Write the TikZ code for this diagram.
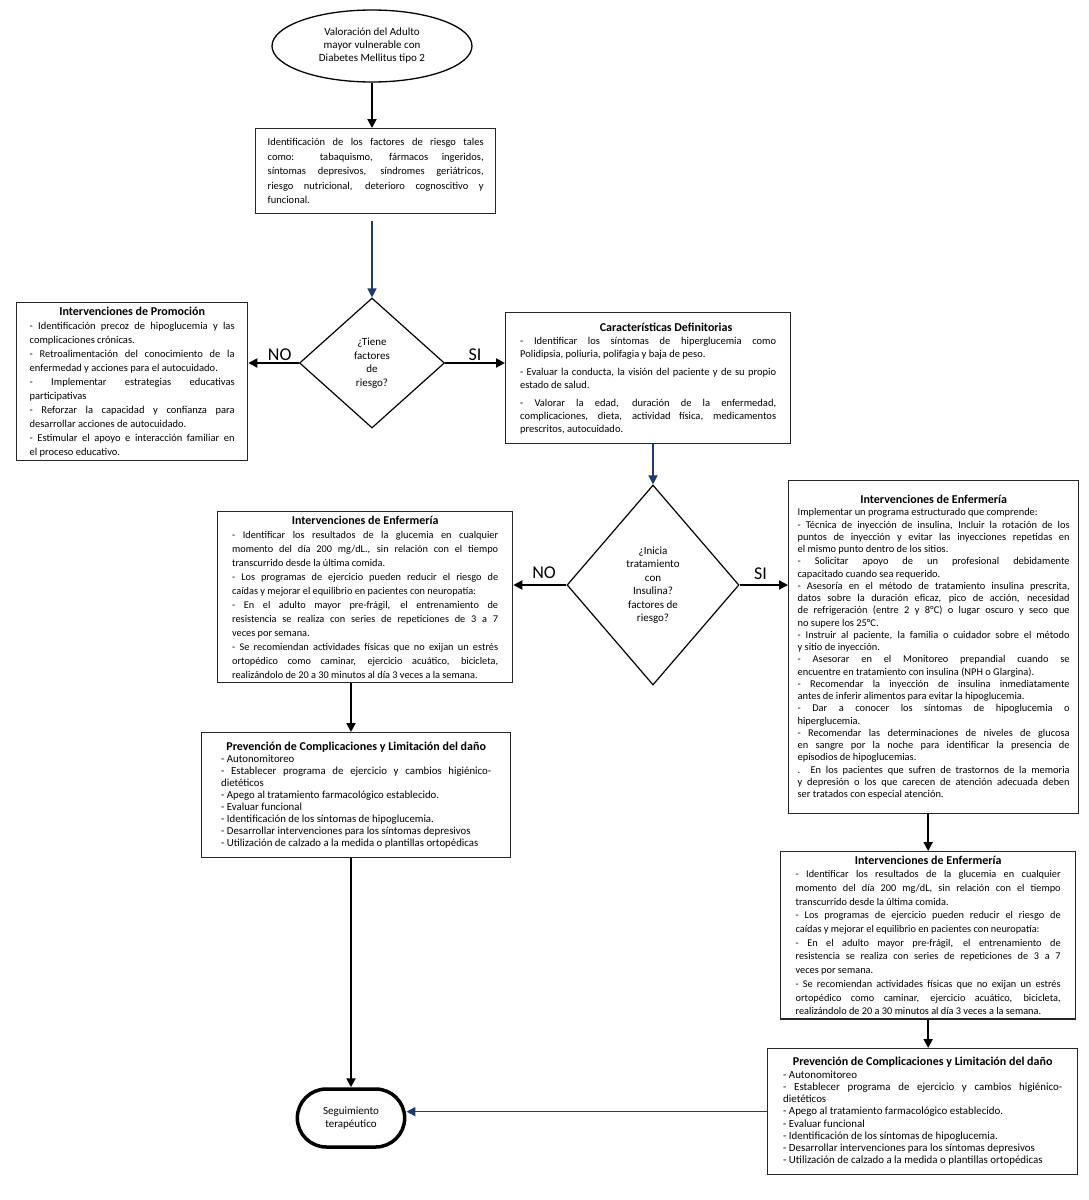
\documentclass[tikz,border=0pt]{standalone}
\usepackage{fontspec}
\setmainfont{Carlito}
\usetikzlibrary{shapes.geometric,shapes.misc,arrows.meta}

\definecolor{azulFlecha}{HTML}{1F3A6E}
\definecolor{bordeCaja}{HTML}{262626}

% titulo centrado de cada caja
\newcommand{\titulo}[1]{\centerline{\fontsize{12}{14}\selectfont\bfseries #1}}

% textos que se repiten en las dos ramas
\newcommand{\textoEnfermeria}[1]{\titulo{Intervenciones de Enfermería}
- Identificar los resultados de la glucemia en cualquier \linebreak momento del día 200 mg/dL#1 sin relación con el tiempo \linebreak transcurrido desde la última comida.\par
- Los programas de ejercicio pueden reducir el riesgo de \linebreak caídas y mejorar el equilibrio en pacientes con neuropatía:\par
- En el adulto mayor pre-frágil, el entrenamiento de \linebreak resistencia se realiza con series de repeticiones de 3 a 7 \linebreak veces por semana.\par
- Se recomiendan actividades físicas que no exijan un estrés \linebreak ortopédico como caminar, ejercicio acuático, bicicleta, \linebreak realizándolo de 20 a 30 minutos al día 3 veces a la semana.}

\newcommand{\textoPrevencion}{\titulo{Prevención de Complicaciones y Limitación del daño}
- Autonomitoreo\par
- Establecer programa de ejercicio y cambios higiénico-\linebreak dietéticos\par
- Apego al tratamiento farmacológico establecido.\par
- Evaluar funcional\par
- Identificación de los síntomas de hipoglucemia.\par
- Desarrollar intervenciones para los síntomas depresivos\par
- Utilización de calzado a la medida o plantillas ortopédicas}

\tikzset{
  caja/.style={draw=bordeCaja, line width=1.3pt, align=justify, anchor=north west, inner ysep=4pt, font=\fontsize{10.5}{13.5}\selectfont},
  rombo/.style={diamond, draw=black, line width=1.2pt, align=center, inner sep=0pt, font=\fontsize{11}{13.5}\selectfont},
  flechaNegra/.style={-{Triangle[length=9pt,width=9pt]}, line width=2pt, black},
  flechaAzul/.style={-{Triangle[length=9pt,width=9pt]}, line width=1.6pt, azulFlecha},
  etiqueta/.style={font=\fontsize{18}{18}\selectfont, inner sep=1pt},
}

\begin{document}
\begin{tikzpicture}[x=1pt, y=-1pt]
        % marco de la pagina
        \useasboundingbox (0,0) rectangle (1088,1200);

        % inicio
        \node[ellipse, draw, line width=1.3pt, minimum width=200pt, minimum height=72pt, align=center, inner sep=0pt, font=\fontsize{11}{13}\selectfont] (inicio) at (372,46) {Valoración del Adulto\\ mayor vulnerable con\\ Diabetes Mellitus tipo 2};

        % factores de riesgo
        \node[caja, text width=216pt, inner xsep=12pt, minimum height=85pt, font=\fontsize{10.5}{14.5}\selectfont] (factores) at (255,128) {Identificación de los factores de riesgo tales \linebreak como: tabaquismo, fármacos ingeridos, \linebreak síntomas depresivos, síndromes geriátricos, \linebreak riesgo nutricional, deterioro cognoscitivo y \linebreak funcional.};

        % primera decision
        \node[rombo, minimum width=145pt, minimum height=130pt] (rombo1) at (372,363) {¿Tiene\\ factores\\ de\\ riesgo?};

        % rama NO
        \node[caja, text width=205pt, inner xsep=13pt, minimum height=150pt, font=\fontsize{10.5}{14}\selectfont] (promocion) at (16,302) {\titulo{Intervenciones de Promoción}
- Identificación precoz de hipoglucemia y las \linebreak complicaciones crónicas.\par
- Retroalimentación del conocimiento de la \linebreak enfermedad y acciones para el autocuidado.\par
- Implementar estrategias educativas \linebreak participativas\par
- Reforzar la capacidad y confianza para \linebreak desarrollar acciones de autocuidado.\par
- Estimular el apoyo e interacción familiar en \linebreak el proceso educativo.};

        % rama SI
        \node[caja, text width=256pt, inner xsep=14.5pt, minimum height=131pt, font=\fontsize{10.5}{13}\selectfont] (caract) at (505,312) {\centerline{\hspace{36pt}\fontsize{12}{14}\selectfont\bfseries Características Definitorias}
- Identificar los síntomas de hiperglucemia como \linebreak Polidipsia, poliuria, polifagia y baja de peso.\par\vspace{5pt}
- Evaluar la conducta, la visión del paciente y de su propio \linebreak estado de salud.\par\vspace{5pt}
- Valorar la edad, duración de la enfermedad, \linebreak complicaciones, dieta, actividad física, medicamentos \linebreak prescritos, autocuidado.};

        % segunda decision
        \node[rombo, minimum width=172pt, minimum height=200pt] (rombo2) at (653,585) {¿Inicia\\ tratamiento\\ con\\ Insulina?\\ factores de\\ riesgo?};

        % columna izquierda
        \node[caja, text width=266pt, inner xsep=14.5pt, minimum height=163pt, font=\fontsize{10.3}{14}\selectfont] (enfIzq) at (217,511) {\textoEnfermeria{.,}};
        \node[caja, text width=270pt, inner xsep=19.5pt, minimum height=125pt, font=\fontsize{10.8}{12}\selectfont] (prevIzq) at (201,732) {\textoPrevencion};

        % columna derecha
        \node[caja, text width=272pt, inner xsep=9pt, minimum height=333pt, font=\fontsize{10.4}{12.25}\selectfont] (enfDer) at (788,480) {\titulo{Intervenciones de Enfermería}
Implementar un programa estructurado que comprende:\par
- Técnica de inyección de insulina, Incluir la rotación de los \linebreak puntos de inyección y evitar las inyecciones repetidas en \linebreak el mismo punto dentro de los sitios.\par
- Solicitar apoyo de un profesional debidamente \linebreak capacitado cuando sea requerido.\par
- Asesoría en el método de tratamiento insulina prescrita, \linebreak datos sobre la duración eficaz, pico de acción, necesidad \linebreak de refrigeración (entre 2 y 8°C) o lugar oscuro y seco que \linebreak no supere los 25°C.\par
- Instruir al paciente, la familia o cuidador sobre el método \linebreak y sitio de inyección.\par
- Asesorar en el Monitoreo prepandial cuando se \linebreak encuentre en tratamiento con insulina (NPH o Glargina).\par
- Recomendar la inyección de insulina inmediatamente \linebreak antes de inferir alimentos para evitar la hipoglucemia.\par
- Dar a conocer los síntomas de hipoglucemia o \linebreak hiperglucemia.\par
- Recomendar las determinaciones de niveles de glucosa \linebreak en sangre por la noche para identificar la presencia de \linebreak episodios de hipoglucemias.\par
. En los pacientes que sufren de trastornos de la memoria \linebreak y depresión o los que carecen de atención adecuada deben \linebreak ser tratados con especial atención.};
        \node[caja, text width=265pt, inner xsep=15pt, minimum height=162pt, font=\fontsize{10.3}{13.7}\selectfont] (enfDer2) at (780,851) {\textoEnfermeria{,}};
        \node[caja, text width=279pt, inner xsep=15.5pt, minimum height=126pt, font=\fontsize{10.9}{12.25}\selectfont] (prevDer) at (767,1048) {\textoPrevencion};

        % fin
        \node[rounded rectangle, draw, line width=3.5pt, minimum width=114pt, minimum height=58pt, align=center, font=\fontsize{11}{13}\selectfont] (seguimiento) at (351,1118) {Seguimiento\\ terapéutico};

        % flechas
        \draw[flechaNegra] (inicio.south) -- (inicio.south |- factores.north);
        \draw[flechaAzul, shorten <=7pt] (rombo1.north |- factores.south) -- (rombo1.north);
        \draw[flechaNegra] (rombo1.west) -- (rombo1.west -| promocion.east) node[etiqueta, pos=0.38, above] {NO};
        \draw[flechaNegra] (rombo1.east) -- (rombo1.east -| caract.west) node[etiqueta, pos=0.5, above] {SI};
        \draw[flechaAzul] (rombo2.north |- caract.south) -- (rombo2.north);
        \draw[flechaNegra] (rombo2.west) -- (rombo2.west -| enfIzq.east) node[etiqueta, pos=0.42, above=4pt] {NO};
        \draw[flechaNegra] (rombo2.east) -- (rombo2.east -| enfDer.west) node[etiqueta, pos=0.43, above=3pt] {SI};
        \draw[flechaNegra] (seguimiento.north |- enfIzq.south) -- (seguimiento.north |- prevIzq.north);
        \draw[flechaNegra] (seguimiento.north |- prevIzq.south) -- (seguimiento.north);
        \draw[flechaNegra] (enfDer2.north |- enfDer.south) -- (enfDer2.north);
        \draw[flechaNegra] (enfDer2.south) -- (enfDer2.south |- prevDer.north);
        \draw[flechaAzul] (prevDer.west) -- (prevDer.west -| seguimiento.east);
\end{tikzpicture}
\end{document}
